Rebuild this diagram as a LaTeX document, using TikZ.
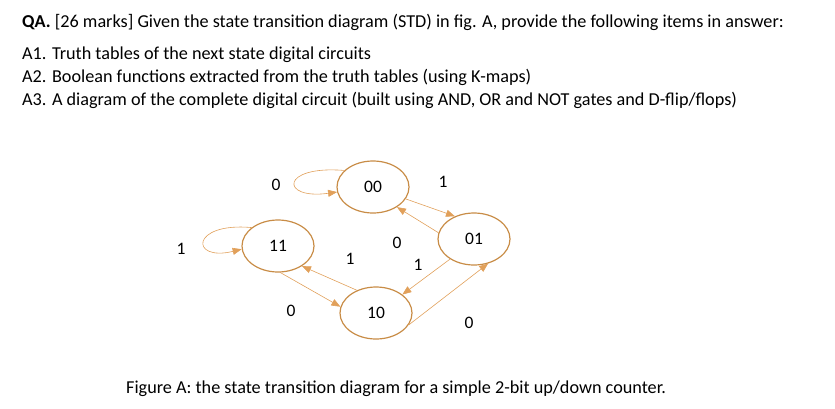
\documentclass[tikz,border=0pt]{standalone}
\usepackage{fontspec}
\setmainfont{Carlito}
\usetikzlibrary{shapes.geometric,arrows.meta}
\definecolor{st}{RGB}{200,140,70}
\definecolor{ar}{RGB}{225,160,90}
\tikzset{state/.style={draw=st,line width=1.2pt,ellipse,minimum width=72pt,minimum height=52pt,inner sep=0pt,font=\fontsize{17.5}{20}\selectfont},
edge/.style={draw=ar,line width=0.6pt,-{Triangle[length=9pt,width=7pt]}},
lab/.style={font=\fontsize{17.5}{20}\selectfont},
txt/.style={anchor=west,font=\fontsize{18.2}{21}\selectfont,inner sep=0pt}}
\begin{document}
\begin{tikzpicture}[x=1pt,y=-1pt]
\useasboundingbox (0,0) rectangle (835,408);
\node[txt] (t0) at (22,22) {\textbf{QA.} [26 marks] Given the state transition diagram (STD) in fig. A, provide the following items in answer:};
\node[txt] (t1) at (22,55) {A1. Truth tables of the next state digital circuits};
\node[txt] (t2) at (22,77) {A2. Boolean functions extracted from the truth tables (using K-maps)};
\node[txt] (t3) at (22,100) {A3. A diagram of the complete digital circuit (built using AND, OR and NOT gates and D-flip/flops)};
\node[state] (s00) at (373,187) {00};
\node[state] (s11) at (278,246) {11};
\node[state] (s01) at (474,239) {01};
\node[state] (s10) at (376,313) {10};
\draw[edge] (s00.150) .. controls (280,165) and (280,200) .. (s00.188);
\draw[edge] (s11.145) .. controls (190,222) and (190,262) .. (s11.185);
\draw[edge] (s00.-20) -- (s01.130);
\draw[edge] (s01.170) -- (s00.-40);
\draw[edge] (s01.-140) -- (s10.35);
\draw[edge] (s10.-20) -- (s01.-60);
\draw[edge] (s11.-85) -- (s10.170);
\draw[edge] (s10.130) -- (s11.-40);
\node[lab] (l1) at (276,185) {0};
\node[lab] (l2) at (443,182) {1};
\node[lab] (l3) at (181,249) {1};
\node[lab] (l4) at (397,243) {0};
\node[lab] (l5) at (350,259) {1};
\node[lab] (l6) at (418,265) {1};
\node[lab] (l7) at (291,311) {0};
\node[lab] (l8) at (469,323) {0};
\node[txt] (cap) at (126,389) {Figure A: the state transition diagram for a simple 2-bit up/down counter.};
\end{tikzpicture}
\end{document}
